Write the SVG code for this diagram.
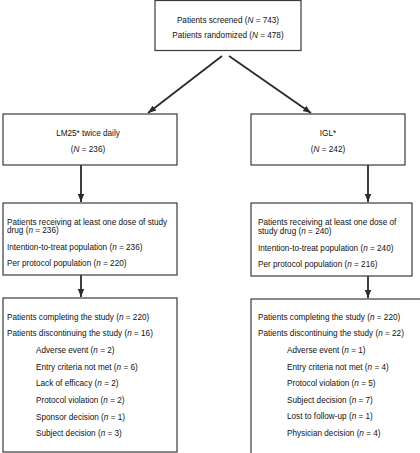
<svg xmlns="http://www.w3.org/2000/svg" width="420" height="453" viewBox="0 0 420 453">
<style>
.box{fill:#fff;stroke:#3a3a3a;stroke-width:1.2}
.t{font-family:"Liberation Sans",Arial,sans-serif;font-size:8.2px;fill:#111}
.c{text-anchor:middle}
.ln{stroke:#2a2a2a;stroke-width:1.8;fill:none}
</style>
<defs>
<marker id="ah" viewBox="0 0 10 10" refX="10" refY="5" markerWidth="4.5" markerHeight="4.5" orient="auto" markerUnits="strokeWidth">
<path d="M0,1 L10,5 L0,9 z" fill="#2a2a2a"/>
</marker>
</defs>
<rect width="420" height="453" fill="#fff"/>
<g id="connectors">
<line class="ln" x1="222" y1="56" x2="148" y2="113" marker-end="url(#ah)"/>
<line class="ln" x1="229" y1="56" x2="311" y2="113" marker-end="url(#ah)"/>
<line class="ln" x1="81" y1="165" x2="81" y2="202" marker-end="url(#ah)"/>
<line class="ln" x1="368" y1="165" x2="368" y2="202" marker-end="url(#ah)"/>
<line class="ln" x1="81" y1="275" x2="81" y2="297" marker-end="url(#ah)"/>
<line class="ln" x1="368" y1="276" x2="368" y2="298" marker-end="url(#ah)"/>
</g>
<g id="screened">
<rect class="box" x="155" y="0.5" width="146" height="50"/>
<text class="t c" x="228" y="23">Patients screened (<tspan font-style="italic">N</tspan> = 743)</text>
<text class="t c" x="228" y="38">Patients randomized (<tspan font-style="italic">N</tspan> = 478)</text>
</g>
<g id="lm25">
<rect class="box" x="3" y="114" width="174" height="51"/>
<text class="t c" x="88" y="135.5">LM25* twice daily</text>
<text class="t c" x="88" y="152">(<tspan font-style="italic">N</tspan> = 236)</text>
</g>
<g id="igl">
<rect class="box" x="251" y="114" width="154" height="51"/>
<text class="t c" x="328" y="135.5">IGL*</text>
<text class="t c" x="328" y="152">(<tspan font-style="italic">N</tspan> = 242)</text>
</g>
<g id="lm25-pop">
<rect class="box" x="3" y="203" width="174" height="72"/>
<text class="t" x="7" y="224.5">Patients receiving at least one dose of study</text>
<text class="t" x="7" y="232.5">drug (<tspan font-style="italic">n</tspan> = 236)</text>
<text class="t" x="7" y="249.5">Intention-to-treat population (<tspan font-style="italic">n</tspan> = 236)</text>
<text class="t" x="7" y="266">Per protocol population (<tspan font-style="italic">n</tspan> = 220)</text>
</g>
<g id="igl-pop">
<rect class="box" x="251" y="203" width="161" height="73"/>
<text class="t" x="258" y="224.5">Patients receiving at least one dose of</text>
<text class="t" x="258" y="234">study drug (<tspan font-style="italic">n</tspan> = 240)</text>
<text class="t" x="258" y="250.5">Intention-to-treat population (<tspan font-style="italic">n</tspan> = 240)</text>
<text class="t" x="258" y="267">Per protocol population (<tspan font-style="italic">n</tspan> = 216)</text>
</g>
<g id="lm25-completion">
<rect class="box" x="3" y="298" width="174" height="154"/>
<text class="t" x="7" y="319.5">Patients completing the study (<tspan font-style="italic">n</tspan> = 220)</text>
<text class="t" x="7" y="336">Patients discontinuing the study (<tspan font-style="italic">n</tspan> = 16)</text>
<text class="t" x="36" y="353">Adverse event (<tspan font-style="italic">n</tspan> = 2)</text>
<text class="t" x="36" y="369.5">Entry criteria not met (<tspan font-style="italic">n</tspan> = 6)</text>
<text class="t" x="36" y="386">Lack of efficacy (<tspan font-style="italic">n</tspan> = 2)</text>
<text class="t" x="36" y="402.5">Protocol violation (<tspan font-style="italic">n</tspan> = 2)</text>
<text class="t" x="36" y="419.5">Sponsor decision (<tspan font-style="italic">n</tspan> = 1)</text>
<text class="t" x="36" y="436">Subject decision (<tspan font-style="italic">n</tspan> = 3)</text>
</g>
<g id="igl-completion">
<rect class="box" x="251" y="299" width="180" height="170"/>
<text class="t" x="258" y="319.5">Patients completing the study (<tspan font-style="italic">n</tspan> = 220)</text>
<text class="t" x="258" y="336">Patients discontinuing the study (<tspan font-style="italic">n</tspan> = 22)</text>
<text class="t" x="287" y="353">Adverse event (<tspan font-style="italic">n</tspan> = 1)</text>
<text class="t" x="287" y="369.5">Entry criteria not met (<tspan font-style="italic">n</tspan> = 4)</text>
<text class="t" x="287" y="386">Protocol violation (<tspan font-style="italic">n</tspan> = 5)</text>
<text class="t" x="287" y="402.5">Subject decision (<tspan font-style="italic">n</tspan> = 7)</text>
<text class="t" x="287" y="419">Lost to follow-up (<tspan font-style="italic">n</tspan> = 1)</text>
<text class="t" x="287" y="435.5">Physician decision (<tspan font-style="italic">n</tspan> = 4)</text>
</g>
</svg>
